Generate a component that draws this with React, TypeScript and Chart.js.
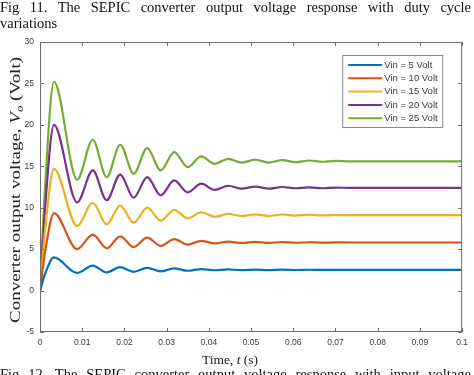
import React, { useEffect, useRef } from "react";
import { Chart, registerables } from "chart.js";

Chart.register(...registerables);

const seriesLabels = ["Vin = 5 Volt", "Vin = 10 Volt", "Vin = 15 Volt", "Vin = 20 Volt", "Vin = 25 Volt"];
const seriesColors = ["#0072BD", "#D95319", "#EDB120", "#7E2F8E", "#77AC30"];

const times = [0, 0.0012, 0.0033, 0.0088, 0.0125, 0.0158, 0.019, 0.0222, 0.0254, 0.0286, 0.0318, 0.035, 0.0382, 0.0414, 0.0446, 0.0478, 0.051, 0.0542, 0.0574, 0.0606, 0.0638, 0.067, 0.0702, 0.0734, 0.08, 0.09, 0.1];

const v5 = [0, 2.0, 4.0, 2.13, 3.0, 2.2, 2.82, 2.26, 2.75, 2.32, 2.67, 2.39, 2.6, 2.45, 2.55, 2.47, 2.53, 2.47, 2.52, 2.48, 2.51, 2.49, 2.5, 2.5, 2.5, 2.5, 2.5];
const v10 = [0, 4.65, 9.35, 5.0, 6.75, 5.1, 6.55, 5.25, 6.4, 5.4, 6.2, 5.55, 6.0, 5.7, 5.9, 5.75, 5.88, 5.75, 5.86, 5.77, 5.83, 5.78, 5.81, 5.8, 5.8, 5.8, 5.8];
const v15 = [0, 7.3, 14.7, 7.8, 10.6, 8.0, 10.25, 8.2, 10.0, 8.45, 9.75, 8.7, 9.45, 8.9, 9.25, 9.0, 9.2, 9.0, 9.18, 9.05, 9.15, 9.07, 9.12, 9.1, 9.1, 9.1, 9.1];
const v20 = [0, 9.9, 20.0, 10.65, 14.5, 10.9, 14.0, 11.2, 13.7, 11.5, 13.3, 11.85, 12.9, 12.15, 12.65, 12.3, 12.55, 12.3, 12.5, 12.35, 12.45, 12.35, 12.42, 12.4, 12.4, 12.4, 12.4];
const v25 = [0, 12.5, 25.2, 13.4, 18.2, 13.7, 17.6, 14.1, 17.2, 14.5, 16.7, 14.9, 16.2, 15.3, 15.9, 15.45, 15.8, 15.45, 15.75, 15.5, 15.7, 15.55, 15.65, 15.6, 15.6, 15.6, 15.6];

const seriesValues = [v5, v10, v15, v20, v25];

const xTickLabels = ["0", "0.01", "0.02", "0.03", "0.04", "0.05", "0.06", "0.07", "0.08", "0.09", "0.1"];
const yTickLabels = ["-5", "0", "5", "10", "15", "20", "25", "30"];

const AXIS_COLOR = "#6e6e6e";
const TEXT_COLOR = "#3a3a3a";
const SERIF = '"Liberation Serif", "Times New Roman", serif';
const SANS = '"Liberation Sans", Arial, sans-serif';

const framePlugin = {
  id: "frame",
  afterDraw(chart: any) {
    const { ctx, chartArea: a, scales } = chart;
    ctx.save();
    // box
    ctx.strokeStyle = AXIS_COLOR;
    ctx.lineWidth = 1;
    ctx.strokeRect(a.left + 0.5, a.top + 0.5, a.right - a.left - 1, a.bottom - a.top - 1);
    const L = 4;
    ctx.beginPath();
    scales.x.ticks.forEach((t: any) => {
      const px = Math.round(scales.x.getPixelForValue(t.value)) + 0.5;
      ctx.moveTo(px, a.bottom);
      ctx.lineTo(px, a.bottom - L);
      ctx.moveTo(px, a.top);
      ctx.lineTo(px, a.top + L);
    });
    scales.y.ticks.forEach((t: any) => {
      const py = Math.round(scales.y.getPixelForValue(t.value)) + 0.5;
      ctx.moveTo(a.left, py);
      ctx.lineTo(a.left + L, py);
      ctx.moveTo(a.right, py);
      ctx.lineTo(a.right - L, py);
    });
    ctx.stroke();

    // legend
    const lx = a.left + (a.right - a.left) * 0.716;
    const ly = a.top + 13;
    const lw = 100;
    const lh = 72;
    ctx.fillStyle = "#ffffff";
    ctx.fillRect(lx, ly, lw, lh);
    ctx.strokeStyle = "#8a8a8a";
    ctx.strokeRect(lx + 0.5, ly + 0.5, lw, lh);
    ctx.font = `9.5px ${SANS}`;
    ctx.textBaseline = "middle";
    ctx.textAlign = "left";
    chart.data.datasets.forEach((ds: any, i: number) => {
      const ry = ly + 10 + i * 13.3;
      ctx.strokeStyle = ds.borderColor;
      ctx.lineWidth = 2;
      ctx.beginPath();
      ctx.moveTo(lx + 6, ry);
      ctx.lineTo(lx + 40, ry);
      ctx.stroke();
      ctx.fillStyle = TEXT_COLOR;
      ctx.fillText(ds.label, lx + 42, ry);
    });

    // axis titles
    const drawParts = (parts: any[], cx: number, cy: number, rotate: boolean, targetLen: number) => {
      ctx.save();
      ctx.translate(cx, cy);
      if (rotate) ctx.rotate(-Math.PI / 2);
      let total = 0;
      parts.forEach((p) => {
        ctx.font = p.f;
        total += ctx.measureText(p.t).width;
      });
      if (targetLen > 0) ctx.scale(targetLen / total, 1);
      let x = -total / 2;
      ctx.fillStyle = "#222";
      ctx.textAlign = "left";
      ctx.textBaseline = "alphabetic";
      parts.forEach((p) => {
        ctx.font = p.f;
        ctx.fillText(p.t, x, p.dy || 0);
        x += ctx.measureText(p.t).width;
      });
      ctx.restore();
    };
    drawParts(
      [
        { t: "Converter output voltage, ", f: `15px ${SERIF}` },
        { t: "V", f: `italic 15px ${SERIF}` },
        { t: "o", f: `italic 10px ${SERIF}`, dy: 3 },
        { t: " (Volt)", f: `15px ${SERIF}` },
      ],
      20,
      (a.top + a.bottom) / 2 + 3,
      true,
      266
    );
    drawParts(
      [
        { t: "Time, ", f: `13.5px ${SERIF}` },
        { t: "t", f: `italic 13.5px ${SERIF}` },
        { t: " (s)", f: `13.5px ${SERIF}` },
      ],
      230,
      364,
      false,
      0
    );
    ctx.restore();
  },
};

export default function App() {
  const ref = useRef<HTMLCanvasElement | null>(null);
  useEffect(() => {
    if (!ref.current) return;
    const chart = new Chart(ref.current, {
      type: "line",
      data: {
        datasets: seriesValues.map((vals, i) => ({
          label: seriesLabels[i],
          data: times.map((t, j) => ({ x: t, y: vals[j] })),
          borderColor: seriesColors[i],
          backgroundColor: seriesColors[i],
          borderWidth: 2.2,
          pointRadius: 0,
          cubicInterpolationMode: "monotone" as const,
          fill: false,
        })),
      },
      options: {
        animation: false,
        responsive: false,
        maintainAspectRatio: false,
        layout: { padding: { left: 0, top: 42, right: 11, bottom: 0 } },
        plugins: { legend: { display: false }, tooltip: { enabled: false } },
        scales: {
          x: {
            type: "linear",
            min: 0,
            max: 0.1,
            afterFit: (s: any) => {
              s.height = 43;
            },
            grid: { display: false, drawTicks: false },
            border: { display: false },
            ticks: {
              stepSize: 0.01,
              autoSkip: false,
              maxRotation: 0,
              padding: 6,
              color: TEXT_COLOR,
              font: { family: SANS, size: 8.5 },
              callback: (_v: any, i: number) => xTickLabels[i],
            },
          },
          y: {
            type: "linear",
            min: -5,
            max: 30,
            afterFit: (s: any) => {
              s.width = 40;
            },
            grid: { display: false, drawTicks: false },
            border: { display: false },
            ticks: {
              stepSize: 5,
              padding: 6,
              color: TEXT_COLOR,
              font: { family: SANS, size: 8.5 },
              callback: (_v: any, i: number) => yTickLabels[i],
            },
          },
        },
      },
      plugins: [framePlugin],
    });
    return () => chart.destroy();
  }, []);

  const capStyle: React.CSSProperties = {
    position: "absolute",
    left: 0,
    width: 471,
    fontFamily: SERIF,
    fontSize: 14.5,
    lineHeight: "15px",
    color: "#111",
    textAlign: "justify",
    textAlignLast: "justify",
    whiteSpace: "normal",
  };

  return (
    <div style={{ position: "fixed", left: 0, top: 0, width: 474, height: 375, overflow: "hidden", background: "#fff" }}>
      <canvas ref={ref} width={474} height={375} style={{ position: "absolute", left: 0, top: 0, display: "block" }} />
      <div style={{ ...capStyle, top: 0 }}>
        Fig 11. The SEPIC converter output voltage response with duty cycle
      </div>
      <div style={{ ...capStyle, top: 16, textAlignLast: "left" }}>variations</div>
      <div style={{ ...capStyle, top: 367 }}>
        Fig 12. The SEPIC converter output voltage response with input voltage
      </div>
    </div>
  );
}
